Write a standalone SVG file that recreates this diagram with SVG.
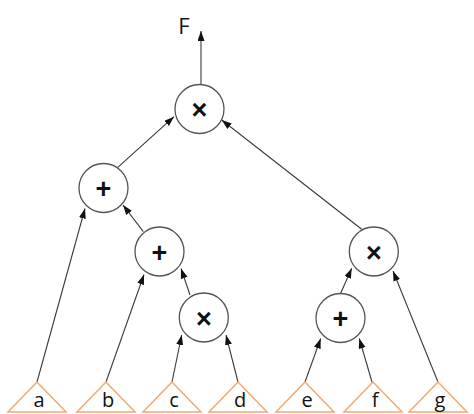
<svg xmlns="http://www.w3.org/2000/svg" width="474" height="414" viewBox="0 0 474 414">
<style>
.edge{stroke:#3a3a3a;stroke-width:1.1;fill:none;marker-end:url(#arr)}
.op{fill:#fff;stroke:#555;stroke-width:1.3}
.sym{font-family:"Liberation Sans",Arial,sans-serif;font-weight:bold;font-size:27px;fill:#111;text-anchor:middle}
.leaf{fill:#fff;stroke:#F3A96F;stroke-width:1.5}
.lbl{font-family:"Open Sans","Liberation Sans",sans-serif;font-size:20px;fill:#111;text-anchor:middle}
.out{font-family:"Open Sans","Liberation Sans",sans-serif;font-size:22px;fill:#111;text-anchor:middle}
</style>
<defs>
<marker id="arr" markerUnits="userSpaceOnUse" markerWidth="11" markerHeight="8" refX="10" refY="3.5" orient="auto">
<path d="M0,0 L10,3.5 L0,7 z" fill="#111"/>
</marker>
</defs>
<g id="connectors">
<line class="edge" x1="201" y1="85" x2="201" y2="31"/>
<line class="edge" x1="116.7" y1="168.3" x2="174" y2="116.7"/>
<line class="edge" x1="361.7" y1="229.3" x2="221.7" y2="120"/>
<line class="edge" x1="143.3" y1="231.7" x2="123" y2="205"/>
<line class="edge" x1="190" y1="295" x2="181" y2="268.5"/>
<line class="edge" x1="340.7" y1="293.3" x2="351.7" y2="268.3"/>
<line class="edge" x1="37" y1="382" x2="85" y2="208.5"/>
<line class="edge" x1="106" y1="382" x2="144" y2="274.5"/>
<line class="edge" x1="172" y1="382" x2="181.7" y2="335"/>
<line class="edge" x1="238" y1="382" x2="226" y2="335"/>
<line class="edge" x1="305" y1="382" x2="320.7" y2="338.5"/>
<line class="edge" x1="372" y1="382" x2="359.3" y2="338.5"/>
<line class="edge" x1="438" y1="382" x2="393" y2="271"/>
</g>
<g id="F"><text class="out" x="184" y="34">F</text></g>
<g id="root"><circle class="op" cx="199.5" cy="109" r="24.5"/><text class="sym" x="199.5" y="119">×</text></g>
<g id="plus1"><circle class="op" cx="103.5" cy="188" r="24.5"/><text class="sym" x="103.5" y="198">+</text></g>
<g id="plus2"><circle class="op" cx="159.5" cy="251.5" r="24.5"/><text class="sym" x="159.5" y="261.5">+</text></g>
<g id="times2"><circle class="op" cx="203.8" cy="317.5" r="24.5"/><text class="sym" x="203.8" y="327.5">×</text></g>
<g id="times3"><circle class="op" cx="373.8" cy="251.5" r="24.5"/><text class="sym" x="373.8" y="261.5">×</text></g>
<g id="plus3"><circle class="op" cx="340.5" cy="318" r="24.5"/><text class="sym" x="340.5" y="328">+</text></g>
<g id="a"><polygon class="leaf" points="37,382 8,412 66,412"/><text class="lbl" x="39" y="407">a</text></g>
<g id="b"><polygon class="leaf" points="106,382 77,412 135,412"/><text class="lbl" x="108" y="407">b</text></g>
<g id="c"><polygon class="leaf" points="172,382 143,412 201,412"/><text class="lbl" x="174" y="407">c</text></g>
<g id="d"><polygon class="leaf" points="238,382 209,412 267,412"/><text class="lbl" x="240" y="407">d</text></g>
<g id="e"><polygon class="leaf" points="305,382 276,412 334,412"/><text class="lbl" x="307" y="407">e</text></g>
<g id="f"><polygon class="leaf" points="373,382 344,412 402,412"/><text class="lbl" x="375" y="407">f</text></g>
<g id="g"><polygon class="leaf" points="438,382 409,412 467,412"/><text class="lbl" x="440" y="407">g</text></g>
</svg>
